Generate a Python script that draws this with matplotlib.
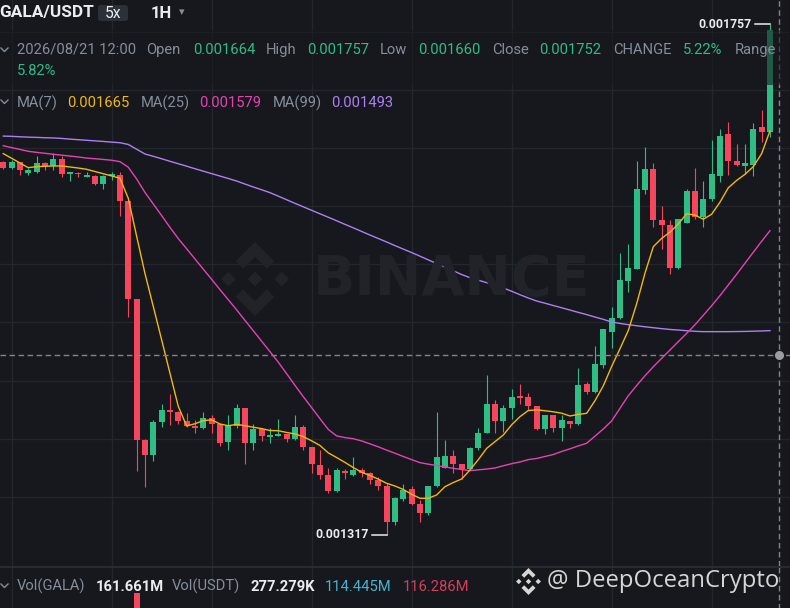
import numpy as np
import matplotlib
matplotlib.use("Agg")
import matplotlib.pyplot as plt
from matplotlib.patches import Rectangle, FancyBboxPatch, Polygon
from matplotlib.lines import Line2D

# ---------------- data (GALA/USDT, 1H candles, price in USDT) ----------------
open_ = [0.001638, 0.001633, 0.001638, 0.001629, 0.001630, 0.001637, 0.001635, 0.001641, 0.001628, 0.001629,
         0.001625, 0.001626, 0.001619, 0.001626, 0.001627, 0.001605, 0.001520, 0.001399, 0.001386, 0.001414,
         0.001425, 0.001423, 0.001415, 0.001411, 0.001409, 0.001418, 0.001413, 0.001397, 0.001411, 0.001426,
         0.001396, 0.001408, 0.001401, 0.001402, 0.001404, 0.001400, 0.001410, 0.001393, 0.001377, 0.001369,
         0.001355, 0.001372, 0.001369, 0.001373, 0.001370, 0.001364, 0.001359, 0.001328, 0.001348, 0.001357,
         0.001344, 0.001336, 0.001359, 0.001375, 0.001385, 0.001378, 0.001374, 0.001392, 0.001405, 0.001430,
         0.001415, 0.001426, 0.001437, 0.001436, 0.001428, 0.001408, 0.001420, 0.001409, 0.001415, 0.001413,
         0.001447, 0.001440, 0.001463, 0.001492, 0.001504, 0.001536, 0.001546, 0.001614, 0.001632, 0.001588,
         0.001584, 0.001547, 0.001586, 0.001613, 0.001591, 0.001606, 0.001626, 0.001662, 0.001639, 0.001635,
         0.001636, 0.001668, 0.001664]
high = [0.001639, 0.001640, 0.001638, 0.001633, 0.001643, 0.001638, 0.001646, 0.001643, 0.001630, 0.001630,
        0.001630, 0.001627, 0.001627, 0.001630, 0.001630, 0.001606, 0.001520, 0.001400, 0.001416, 0.001430,
        0.001438, 0.001424, 0.001422, 0.001416, 0.001423, 0.001420, 0.001413, 0.001420, 0.001430, 0.001426,
        0.001413, 0.001409, 0.001409, 0.001417, 0.001404, 0.001420, 0.001412, 0.001393, 0.001390, 0.001375,
        0.001375, 0.001374, 0.001384, 0.001375, 0.001371, 0.001367, 0.001362, 0.001350, 0.001361, 0.001359,
        0.001347, 0.001359, 0.001423, 0.001399, 0.001390, 0.001378, 0.001393, 0.001409, 0.001455, 0.001433,
        0.001429, 0.001443, 0.001447, 0.001439, 0.001428, 0.001420, 0.001420, 0.001420, 0.001415, 0.001461,
        0.001449, 0.001480, 0.001494, 0.001513, 0.001560, 0.001568, 0.001639, 0.001651, 0.001637, 0.001600,
        0.001588, 0.001589, 0.001615, 0.001633, 0.001622, 0.001657, 0.001667, 0.001673, 0.001654, 0.001654,
        0.001672, 0.001683, 0.001757]
low = [0.001632, 0.001632, 0.001627, 0.001627, 0.001629, 0.001631, 0.001631, 0.001625, 0.001622, 0.001625,
       0.001625, 0.001618, 0.001615, 0.001623, 0.001592, 0.001505, 0.001372, 0.001358, 0.001381, 0.001410,
       0.001412, 0.001413, 0.001410, 0.001405, 0.001408, 0.001405, 0.001394, 0.001390, 0.001409, 0.001378,
       0.001390, 0.001398, 0.001396, 0.001402, 0.001397, 0.001399, 0.001390, 0.001370, 0.001365, 0.001353,
       0.001354, 0.001365, 0.001368, 0.001367, 0.001361, 0.001356, 0.001317, 0.001326, 0.001346, 0.001343,
       0.001328, 0.001334, 0.001358, 0.001375, 0.001370, 0.001365, 0.001373, 0.001390, 0.001405, 0.001405,
       0.001406, 0.001417, 0.001430, 0.001425, 0.001407, 0.001404, 0.001406, 0.001398, 0.001409, 0.001412,
       0.001438, 0.001439, 0.001461, 0.001478, 0.001503, 0.001526, 0.001546, 0.001611, 0.001582, 0.001563,
       0.001542, 0.001546, 0.001586, 0.001589, 0.001582, 0.001605, 0.001621, 0.001627, 0.001635, 0.001628,
       0.001626, 0.001655, 0.001660]
close = [0.001633, 0.001638, 0.001631, 0.001631, 0.001637, 0.001635, 0.001641, 0.001628, 0.001630, 0.001628,
         0.001627, 0.001619, 0.001626, 0.001628, 0.001605, 0.001520, 0.001399, 0.001386, 0.001414, 0.001425,
         0.001423, 0.001415, 0.001411, 0.001409, 0.001418, 0.001413, 0.001396, 0.001411, 0.001426, 0.001396,
         0.001408, 0.001402, 0.001403, 0.001404, 0.001400, 0.001410, 0.001393, 0.001378, 0.001369, 0.001355,
         0.001373, 0.001370, 0.001373, 0.001370, 0.001364, 0.001359, 0.001328, 0.001349, 0.001356, 0.001344,
         0.001336, 0.001359, 0.001384, 0.001385, 0.001378, 0.001374, 0.001392, 0.001405, 0.001430, 0.001415,
         0.001426, 0.001436, 0.001435, 0.001428, 0.001408, 0.001420, 0.001409, 0.001416, 0.001413, 0.001446,
         0.001440, 0.001464, 0.001494, 0.001504, 0.001537, 0.001547, 0.001615, 0.001632, 0.001588, 0.001584,
         0.001547, 0.001589, 0.001613, 0.001591, 0.001606, 0.001628, 0.001661, 0.001639, 0.001636, 0.001637,
         0.001667, 0.001664, 0.001752]
ma7 = [0.0016454, 0.0016414, 0.0016373, 0.0016333, 0.0016342, 0.0016345, 0.0016348, 0.0016348, 0.0016339, 0.0016330,
       0.0016319, 0.0016300, 0.0016281, 0.0016262, 0.0016242, 0.0016069, 0.0015743, 0.0015422, 0.0015137, 0.0014851,
       0.0014563, 0.0014277, 0.0014109, 0.0014128, 0.0014155, 0.0014162, 0.0014126, 0.0014111, 0.0014123, 0.0014111,
       0.0014098, 0.0014086, 0.0014070, 0.0014068, 0.0014053, 0.0014040, 0.0014017, 0.0013981, 0.0013941, 0.0013877,
       0.0013837, 0.0013795, 0.0013751, 0.0013710, 0.0013683, 0.0013651, 0.0013615, 0.0013592, 0.0013562, 0.0013521,
       0.0013486, 0.0013486, 0.0013515, 0.0013586, 0.0013622, 0.0013652, 0.0013730, 0.0013819, 0.0013916, 0.0013974,
       0.0014031, 0.0014119, 0.0014189, 0.0014242, 0.0014248, 0.0014240, 0.0014231, 0.0014219, 0.0014195, 0.0014208,
       0.0014218, 0.0014326, 0.0014455, 0.0014621, 0.0014774, 0.0014931, 0.0015161, 0.0015424, 0.0015653, 0.0015724,
       0.0015778, 0.0015848, 0.0015936, 0.0015925, 0.0015889, 0.0015932, 0.0016036, 0.0016160, 0.0016223, 0.0016276,
       0.0016342, 0.0016454, 0.0016650]
ma25 = [0.0016522, 0.0016506, 0.0016490, 0.0016474, 0.0016465, 0.0016457, 0.0016448, 0.0016441, 0.0016433, 0.0016425,
        0.0016416, 0.0016410, 0.0016404, 0.0016397, 0.0016385, 0.0016337, 0.0016236, 0.0016120, 0.0016020, 0.0015921,
        0.0015819, 0.0015722, 0.0015635, 0.0015547, 0.0015459, 0.0015372, 0.0015283, 0.0015196, 0.0015109, 0.0015018,
        0.0014929, 0.0014839, 0.0014749, 0.0014658, 0.0014559, 0.0014459, 0.0014361, 0.0014267, 0.0014172, 0.0014079,
        0.0014023, 0.0014009, 0.0013999, 0.0013980, 0.0013955, 0.0013929, 0.0013901, 0.0013874, 0.0013846, 0.0013819,
        0.0013793, 0.0013780, 0.0013768, 0.0013756, 0.0013744, 0.0013734, 0.0013724, 0.0013731, 0.0013738, 0.0013747,
        0.0013766, 0.0013784, 0.0013799, 0.0013819, 0.0013829, 0.0013846, 0.0013863, 0.0013889, 0.0013912, 0.0013937,
        0.0013960, 0.0014021, 0.0014083, 0.0014152, 0.0014261, 0.0014369, 0.0014457, 0.0014541, 0.0014619, 0.0014691,
        0.0014763, 0.0014835, 0.0014906, 0.0014980, 0.0015062, 0.0015144, 0.0015231, 0.0015323, 0.0015415, 0.0015510,
        0.0015605, 0.0015699, 0.0015790]
ma99 = [0.0016605, 0.0016603, 0.0016599, 0.0016596, 0.0016594, 0.0016591, 0.0016589, 0.0016585, 0.0016579, 0.0016574,
        0.0016569, 0.0016564, 0.0016559, 0.0016553, 0.0016548, 0.0016533, 0.0016492, 0.0016451, 0.0016431, 0.0016410,
        0.0016388, 0.0016367, 0.0016346, 0.0016324, 0.0016303, 0.0016282, 0.0016261, 0.0016240, 0.0016218, 0.0016192,
        0.0016167, 0.0016143, 0.0016118, 0.0016088, 0.0016057, 0.0016026, 0.0015996, 0.0015966, 0.0015936, 0.0015906,
        0.0015876, 0.0015845, 0.0015815, 0.0015784, 0.0015753, 0.0015723, 0.0015693, 0.0015662, 0.0015632, 0.0015602,
        0.0015571, 0.0015539, 0.0015508, 0.0015476, 0.0015445, 0.0015413, 0.0015386, 0.0015364, 0.0015343, 0.0015321,
        0.0015297, 0.0015269, 0.0015239, 0.0015211, 0.0015185, 0.0015166, 0.0015146, 0.0015127, 0.0015107, 0.0015087,
        0.0015068, 0.0015047, 0.0015027, 0.0015004, 0.0014992, 0.0014981, 0.0014972, 0.0014963, 0.0014955, 0.0014947,
        0.0014940, 0.0014935, 0.0014929, 0.0014924, 0.0014921, 0.0014921, 0.0014921, 0.0014921, 0.0014922, 0.0014923,
        0.0014925, 0.0014927, 0.0014930]
volume_m = [40, 35, 38, 30, 45, 28, 42, 50, 33, 25, 27, 48, 44, 30, 95, 290, 423, 260, 150, 110,
            85, 60, 45, 40, 55, 42, 70, 75, 68, 120, 80, 50, 38, 45, 35, 52, 66, 88, 72, 95,
            80, 40, 48, 35, 50, 55, 170, 120, 70, 65, 75, 90, 180, 95, 70, 55, 75, 85, 190, 110,
            80, 90, 60, 55, 85, 60, 50, 65, 35, 160, 70, 150, 170, 140, 210, 160, 330, 230, 200, 150,
            140, 130, 110, 120, 95, 150, 120, 105.64, 80, 95, 130, 105.56, 161.661]

header_row = [("2026/08/21 12:00", "label"), ("Open", "label"), ("0.001664", "up"),
              ("High", "label"), ("0.001757", "up"), ("Low", "label"), ("0.001660", "up"),
              ("Close", "label"), ("0.001752", "up"), ("CHANGE", "label"), ("5.22%", "up"),
              ("Range", "label")]
range_text = "5.82%"
ma_labels = ["MA(7)", "MA(25)", "MA(99)"]
ma_values = ["0.001665", "0.001579", "0.001493"]
vol_labels = ["Vol(GALA)", "161.661M", "Vol(USDT)", "277.279K", "114.445M", "116.286M"]
max_label, min_label = "0.001757", "0.001317"

# ---------------- style ----------------
W, H = 790, 608
BG = "#17181d"
GRID = "#22272b"
GREEN = "#2ebd85"
RED = "#f6465d"
GRAY = "#848e9c"
WHITE = "#eaecef"
C7, C25, C99 = "#f0b90b", "#e543b3", "#ac80f2"
FONT = ["Roboto", "DejaVu Sans"]
FS = 10.6

fig = plt.figure(figsize=(W / 100, H / 100), dpi=100, facecolor=BG)


def fx(px):
    return px / W


def fy(py):
    return 1 - py / H


XMIN, XMAX = -0.396, 94.404
ax = fig.add_axes([0, fy(566), 1, 566 / H])
ax.set_facecolor(BG)
ax.set_xlim(XMIN, XMAX)
ax.set_ylim(0.0012903, 0.0017777)
ax.axis("off")

vax = fig.add_axes([0, fy(700), 1, 134 / H])
vax.set_facecolor(BG)
vax.set_xlim(XMIN, XMAX)
vax.set_ylim(0, 530)
vax.axis("off")

# grid
grid_x = np.arange(1.08, XMAX, 12)
for g in grid_x:
    ax.axvline(g, color=GRID, lw=1.0, zorder=0)
    vax.axvline(g, color=GRID, lw=1.0, zorder=0)
for p in np.arange(0.00135, 0.00176, 0.00005):
    ax.axhline(p, color=GRID, lw=1.0, zorder=0)
fig.add_artist(Line2D([0, 1], [fy(566.5), fy(566.5)], color="#2b3036", lw=1.2, transform=fig.transFigure))

# candles
o, h, l, c = map(np.array, (open_, high, low, close))
x = np.arange(len(o))
up = c >= o
cols = np.where(up, GREEN, RED)
ax.vlines(x, l, h, colors=cols, lw=0.8, zorder=3)
min_h = 1.0e-6
body_lo = np.minimum(o, c)
body_h = np.maximum(np.abs(c - o), min_h)
ax.bar(x, body_h, bottom=body_lo, width=0.72, color=cols, linewidth=0, zorder=4)

# volume
vax.bar(x, volume_m, width=0.72, color=cols, linewidth=0, zorder=2)

# moving averages
ax.plot(x, ma99, color=C99, lw=1.0, zorder=5)
ax.plot(x, ma25, color=C25, lw=1.0, zorder=5)
ax.plot(x, ma7, color=C7, lw=1.0, zorder=6)

# max / min markers
imax = int(np.argmax(h))
imin = int(np.argmin(l))
ax.plot([imax - 1.8, imax], [h[imax], h[imax]], color=WHITE, lw=1.1, zorder=7)
ax.text(imax - 2.2, h[imax], max_label, color=WHITE, fontsize=8.8, fontweight="bold",
        family=FONT, ha="right", va="center", zorder=7)
ax.plot([imin - 1.75, imin], [l[imin], l[imin]], color=WHITE, lw=1.1, zorder=7)
ax.text(imin - 2.2, l[imin], min_label, color=WHITE, fontsize=8.8, fontweight="bold",
        family=FONT, ha="right", va="center", zorder=7)

# crosshair
cross_x, cross_p = 93.03, 0.0014718
ax.axhline(cross_p, color="#80848b", lw=1.0, dashes=(4, 2.5), zorder=8)
ax.axvline(cross_x, color="#80848b", lw=1.0, dashes=(4, 2.5), zorder=8)
vax.axvline(cross_x, color="#80848b", lw=1.0, dashes=(4, 2.5), zorder=8)
ax.plot([cross_x], [cross_p], "o", ms=5.5, color="#9a9da3", zorder=9)

# header translucent band (darkens what is behind header rows)
fig.add_artist(Rectangle((0, fy(85)), 1, 55 / H, transform=fig.transFigure,
                         facecolor=BG, edgecolor="none", alpha=0.6, zorder=1))


# ---------------- watermarks ----------------
def binance_logo(cx, cy, s, color, alpha=1.0, z=0.5):
    shapes = []

    def d(dx, dy, r):
        return [(dx, dy + r), (dx + r, dy), (dx, dy - r), (dx - r, dy)]
    shapes.append(d(0, 0, 0.2))
    shapes.append(d(-0.72, 0, 0.2))
    shapes.append(d(0.72, 0, 0.2))
    top = [(0, 1), (0.52, 0.48), (0.32, 0.28), (0, 0.6), (-0.32, 0.28), (-0.52, 0.48)]
    shapes.append(top)
    shapes.append([(px_, -py_) for px_, py_ in top])
    for sh in shapes:
        pts = [(fx(cx + px_ * s), fy(cy - py_ * s)) for px_, py_ in sh]
        fig.add_artist(Polygon(pts, closed=True, transform=fig.transFigure,
                               facecolor=color, edgecolor="none", alpha=alpha, zorder=z))


binance_logo(255, 279, 37, "#222328", z=0.5)
fig.text(fx(313), fy(280), "BINANCE", color="#222328", fontsize=40, fontweight="bold",
         family="DejaVu Sans", ha="left", va="center", zorder=0.5)

binance_logo(528.5, 581.5, 13.5, "#d6d6d6", z=5)
fig.text(fx(547), fy(581), "@ DeepOceanCrypto", color="#d6d6d6", fontsize=17.2,
         family=["Open Sans", "DejaVu Sans"], ha="left", va="center", zorder=5)

# ---------------- header ----------------
fig.text(fx(-1), fy(13), "GALA/USDT", color=WHITE, fontsize=12.4, fontweight="bold",
         family=FONT, ha="left", va="center", zorder=10)
fig.add_artist(FancyBboxPatch((fx(98), fy(21)), fx(30), 16 / H,
                              boxstyle="round,pad=0,rounding_size=0.004",
                              transform=fig.transFigure, facecolor="#2b3139", edgecolor="none", zorder=9))
fig.text(fx(113), fy(13), "5x", color=WHITE, fontsize=11.3, family=FONT, ha="center", va="center", zorder=10)
fig.text(fx(151), fy(13), "1H", color=WHITE, fontsize=12.0, fontweight="bold", family=FONT,
         ha="left", va="center", zorder=10)
fig.text(fx(182), fy(12), "\u25be", color=GRAY, fontsize=8, family="DejaVu Sans",
         ha="center", va="center", zorder=10)


def chevron(py):
    fig.add_artist(Line2D([fx(1), fx(4.5), fx(8)], [fy(py - 2), fy(py + 1.5), fy(py - 2)],
                          color=GRAY, lw=1.0, transform=fig.transFigure, zorder=10))


chevron(50)
chevron(102)
chevron(586)

row_x = [17, 146, 193, 266, 307, 380, 417.7, 492, 539, 613, 683, 735]
for (txt, kind), px_ in zip(header_row, row_x):
    fig.text(fx(px_), fy(50), txt, color=GREEN if kind == "up" else GRAY, fontsize=FS,
             family=FONT, ha="left", va="center", zorder=10)
fig.text(fx(17), fy(70.7), range_text, color=GREEN, fontsize=FS, family=FONT,
         ha="left", va="center", zorder=10)

ma_cols = [C7, C25, C99]
lab_x = [17, 141, 273]
val_x = [67, 199, 331]
for lab, val, col, lx, vx in zip(ma_labels, ma_values, ma_cols, lab_x, val_x):
    fig.text(fx(lx), fy(103), lab, color=GRAY, fontsize=FS, family=FONT, ha="left", va="center", zorder=10)
    fig.text(fx(vx), fy(103), val, color=col, fontsize=FS, family=FONT, ha="left", va="center", zorder=10)

vol_x = [17, 96, 172, 250, 325, 403]
vol_cols = [GRAY, WHITE, GRAY, WHITE, "#45b4cf", "#d2405b"]
vol_w = ["normal", "bold", "normal", "bold", "normal", "normal"]
for txt, px_, col, wt in zip(vol_labels, vol_x, vol_cols, vol_w):
    fig.text(fx(px_), fy(586.7), txt, color=col, fontsize=FS, fontweight=wt, family=FONT,
             ha="left", va="center", zorder=10)

fig.savefig("out.png", dpi=100, facecolor=BG)
